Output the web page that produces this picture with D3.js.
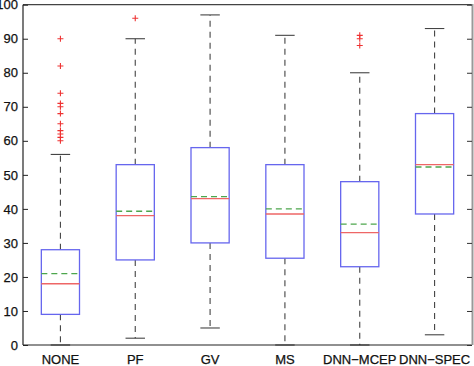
<!DOCTYPE html>
<html><head><meta charset="utf-8">
<script src="https://cdn.jsdelivr.net/npm/d3@7"></script>
<style>body{margin:0;background:#fff}svg{display:block}</style>
</head><body>
<svg id="c" width="474" height="366"></svg>
<script>
const categories = ["NONE","PF","GV","MS","DNN\u2212MCEP","DNN\u2212SPEC"];
const q1 =       [9,   25,   30,   25.5, 23,   38.5];
const q3 =       [28,  53,   58,   53,   48,   68];
const medians =  [18,  38,   43,   38.5, 33,   53];
const means =    [21,  39.3, 43.6, 40,   35.5, 52.3];
const whiskLo =  [0,   2,    5,    0,    0,    3];
const whiskHi =  [56,  90,   97,   91,   80,   93];
const outliers = [[90,82,74,71,70,68,65,63,62,61,60],[96],[],[],[91,90,88],[]];
const yTicks = [0,10,20,30,40,50,60,70,80,90,100];

const svg = d3.select("#c");
const L = 23, R = 472, T = 4.7, B = 345;
const x = d3.scaleBand().domain(categories).range([L, R]);
const y = d3.scaleLinear().domain([0, 100]).range([B, T]);
const bw = x.bandwidth();
const boxW = bw * 0.51, capW = bw * 0.26;
const font = "Liberation Sans, Arial, Helvetica, sans-serif";

const g = svg.append("g");
categories.forEach((c, i) => {
  const cx = x(c) + bw / 2;
  g.append("line").attr("x1", cx).attr("x2", cx).attr("y1", y(q3[i])).attr("y2", y(whiskHi[i]))
    .attr("stroke", "#444").attr("stroke-width", 1.1).attr("stroke-dasharray", "6,5");
  g.append("line").attr("x1", cx).attr("x2", cx).attr("y1", y(q1[i])).attr("y2", y(whiskLo[i]))
    .attr("stroke", "#444").attr("stroke-width", 1.1).attr("stroke-dasharray", "6,5");
  [whiskHi[i], whiskLo[i]].forEach(v => {
    g.append("line").attr("x1", cx - capW / 2).attr("x2", cx + capW / 2)
      .attr("y1", y(v)).attr("y2", y(v)).attr("stroke", "#444").attr("stroke-width", 1.1);
  });
  g.append("rect").attr("x", cx - boxW / 2).attr("y", y(q3[i]))
    .attr("width", boxW).attr("height", y(q1[i]) - y(q3[i]))
    .attr("fill", "none").attr("stroke", "#6666ee").attr("stroke-width", 1.3);
  g.append("line").attr("x1", cx - boxW / 2).attr("x2", cx + boxW / 2)
    .attr("y1", y(medians[i])).attr("y2", y(medians[i]))
    .attr("stroke", "#ee6666").attr("stroke-width", 1.3);
  g.append("line").attr("x1", cx - boxW / 2).attr("x2", cx + boxW / 2)
    .attr("y1", y(means[i])).attr("y2", y(means[i]))
    .attr("stroke", "#4da64d").attr("stroke-width", 1.3).attr("stroke-dasharray", "6,4");
  outliers[i].forEach(v => {
    const py = y(v);
    g.append("path").attr("d", `M${cx-3},${py}H${cx+3}M${cx},${py-3}V${py+3}`)
      .attr("stroke", "#ee3333").attr("stroke-width", 1.1).attr("fill", "none");
  });
});

// frame
svg.append("line").attr("x1", L).attr("x2", R).attr("y1", T).attr("y2", T).attr("stroke", "#444").attr("stroke-width", 1.2);
svg.append("line").attr("x1", L).attr("x2", R).attr("y1", B).attr("y2", B).attr("stroke", "#222").attr("stroke-width", 1.2);
svg.append("line").attr("x1", L).attr("x2", L).attr("y1", T).attr("y2", B).attr("stroke", "#222").attr("stroke-width", 1.2);
svg.append("line").attr("x1", R + 0.5).attr("x2", R + 0.5).attr("y1", T - 0.6).attr("y2", B).attr("stroke", "#999").attr("stroke-width", 2);

const yl = svg.append("g").attr("transform", `translate(${L},0)`)
  .call(d3.axisLeft(y).tickValues(yTicks).tickSize(-5).tickPadding(5));
yl.select(".domain").remove();
yl.selectAll("text").attr("font-family", font).attr("font-size", 13).attr("fill", "#111")
  .attr("stroke", "#111").attr("stroke-width", 0.25);
yl.selectAll("line").attr("stroke", "#222");
const yr = svg.append("g").attr("transform", `translate(${R},0)`)
  .call(d3.axisRight(y).tickValues(yTicks).tickSize(-5).tickFormat(""));
yr.select(".domain").remove();
yr.selectAll("line").attr("stroke", "#333");

const xa = svg.append("g").attr("transform", `translate(0,${B})`)
  .call(d3.axisBottom(x).tickSize(0).tickPadding(10));
xa.select(".domain").remove();
xa.selectAll("text").attr("font-family", font).attr("font-size", 13).attr("fill", "#111")
  .attr("stroke", "#111").attr("stroke-width", 0.25);
</script>
</body></html>
